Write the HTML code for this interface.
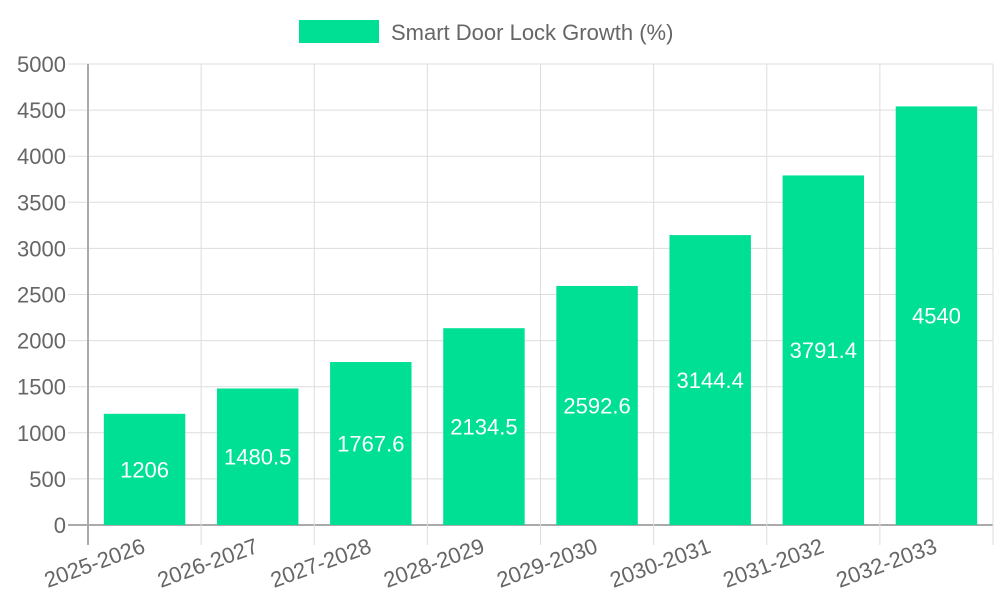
<!DOCTYPE html>
<html><head><meta charset="utf-8"><style>
body{margin:0;background:#fff;}
svg{font-family:"Liberation Sans",sans-serif;}
</style></head><body>
<svg id="c" width="1000" height="600">
<g>
<rect x="299" y="20" width="80" height="23" fill="#00e095"/>
<text x="391" y="40" font-size="22" fill="#666">Smart Door Lock Growth (%)</text>
</g>
</svg>
<script>
const categories=["2025-2026","2026-2027","2027-2028","2028-2029","2029-2030","2030-2031","2031-2032","2032-2033"];
const values=[1206,1480.5,1767.6,2134.5,2592.6,3144.4,3791.4,4540];
const yTicks=[0,500,1000,1500,2000,2500,3000,3500,4000,4500,5000];
const svg=document.getElementById('c');const NS='http://www.w3.org/2000/svg';
const L=88,R=993,T=64,B=525,yMax=5000;
const y=v=>B-(v/yMax)*(B-T);
const cw=(R-L)/categories.length;
const x=i=>L+cw*i;
function mk(t,a,p){const e=document.createElementNS(NS,t);for(const k in a)e.setAttribute(k,a[k]);(p||svg).appendChild(e);return e;}
const grid=mk('g',{});


yTicks.forEach(v=>{
 const l=mk('line',{x1:68,x2:R,y1:y(v),y2:y(v),stroke:v===0?'#aaa':'#ddd','stroke-width':v===0?2:1},grid);
 
 
 const t=mk('text',{x:66,y:y(v)+8,'text-anchor':'end','font-size':22,fill:'#666'});
 t.textContent=v;
 
 
});
for(let i=0;i<=categories.length;i++){
 const l=mk('line',{x1:x(i),x2:x(i),y1:T,y2:545,stroke:i===0?'#aaa':'#ddd','stroke-width':i===0?2:1},grid);
 
 
}
categories.forEach((c,i)=>{
 const bw=cw*0.72,bx=x(i)+cw/2-bw/2,v=values[i];
 const r=mk('rect',{x:bx,y:y(v),width:bw,height:B-y(v),fill:'#00e095'});
 
 
 const t=mk('text',{x:x(i)+cw/2,y:(y(v)+B)/2+8,'text-anchor':'middle','font-size':22,fill:'#fff'});
 t.textContent=v;
 
 
 const cx=x(i)+cw/2+2,cy=552;
 const xl=mk('text',{x:cx,y:cy,'text-anchor':'end','font-size':22,fill:'#666',transform:`rotate(-20 ${cx} ${cy})`});
 xl.textContent=c;
 
 
});
</script>
</body></html>
